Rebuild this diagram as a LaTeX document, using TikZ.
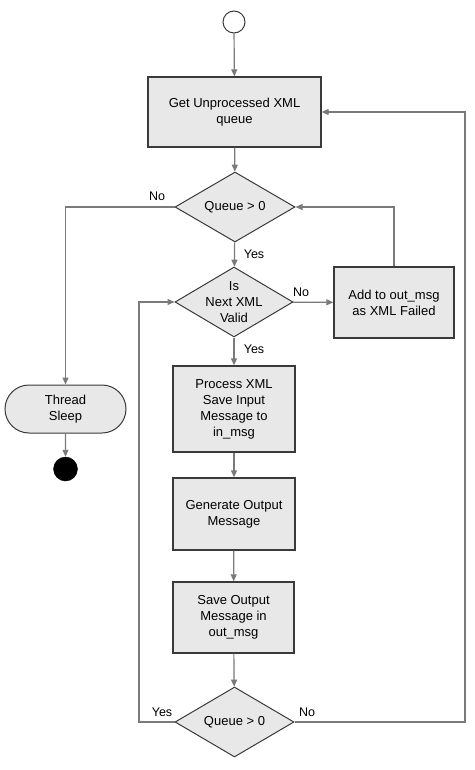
\documentclass[tikz,border=0pt]{standalone}
\usepackage{fontspec}
\setmainfont{Liberation Sans}
\usetikzlibrary{shapes.geometric,shapes.misc,arrows.meta}
\definecolor{boxfill}{HTML}{E8E8E8}
\definecolor{boxline}{HTML}{3A3A3A}
\definecolor{conn}{HTML}{7A7A7A}
\begin{document}
\begin{tikzpicture}[x=1pt,y=-1pt,
  font=\fontsize{13}{16}\selectfont,
  procbox/.style={draw=boxline,line width=1.3pt,fill=boxfill,inner sep=0pt,align=center},
  decision/.style={draw=boxline,line width=1pt,fill=boxfill,inner sep=-8pt,align=center,diamond,aspect=1.7},
  flow/.style={draw=conn,line width=1.2pt,-{Triangle[length=7pt,width=6pt]}},
  lbl/.style={font=\fontsize{12.5}{15}\selectfont,inner sep=1pt}]
\useasboundingbox (0,0) rectangle (474,770);
\node (start) [circle,draw=boxline,line width=1pt,fill=white,minimum size=22pt,inner sep=0pt] at (234,22) {};
\node (getq) [procbox,minimum width=173pt,minimum height=70pt] at (234.5,112) {Get Unprocessed XML\\queue};
\node (q1) [decision,minimum width=120pt,minimum height=70pt] at (235,207) {Queue > 0};
\node (valid) [decision,minimum width=118pt,minimum height=70pt] at (234,302) {Is\\Next XML\\Valid};
\node (fail) [procbox,minimum width=120pt,minimum height=71pt] at (394,302.5) {Add to out\_msg\\as XML Failed};
\node (proc) [procbox,minimum width=122pt,minimum height=86pt] at (234,409) {Process XML\\Save Input\\Message to\\in\_msg};
\node (gen) [procbox,minimum width=122pt,minimum height=72pt] at (234,514) {Generate Output\\Message};
\node (save) [procbox,minimum width=121pt,minimum height=71pt] at (233.5,617.5) {Save Output\\Message in\\out\_msg};
\node (q2) [decision,minimum width=119pt,minimum height=70pt] at (234.5,722) {Queue > 0};
\node (sleep) [rounded rectangle,draw=boxline,line width=1pt,fill=boxfill,minimum width=121pt,minimum height=48pt,inner sep=0pt,align=center] at (65.5,409) {Thread\\Sleep};
\node (stop) [circle,fill=black,draw=black,minimum size=24pt,inner sep=0pt] at (65.5,469) {};
\coordinate (leftc) at (65.5,207);
\coordinate (rtop) at (465,112);
\coordinate (rbot) at (465,722);
\coordinate (ltop) at (139,302);
\coordinate (lbot) at (139,722);
\coordinate (failup) at (394,207);
\draw[flow] (start) -- (getq);
\draw[flow] (getq) -- (q1);
\draw[flow] (q1) -- (valid);
\draw[flow] (valid) -- (fail);
\draw[flow] (valid) -- (proc);
\draw[flow] (proc) -- (gen);
\draw[flow] (gen) -- (save);
\draw[flow] (save) -- (q2);
\draw[flow] (q1.west) -- (leftc) -- (sleep);
\draw[flow] (sleep) -- (stop);
\draw[flow] (fail.north) -- (failup) -- (q1.east);
\draw[flow] (q2.east) -- (rbot) -- (rtop) -- (getq.east);
\draw[flow] (q2.west) -- (lbot) -- (ltop) -- (valid.west);
\node[lbl] at (157,196) {No};
\node[lbl] at (254,254) {Yes};
\node[lbl] at (301,292) {No};
\node[lbl] at (254,349) {Yes};
\node[lbl] at (162,712) {Yes};
\node[lbl] at (307,712) {No};
\end{tikzpicture}
\end{document}
